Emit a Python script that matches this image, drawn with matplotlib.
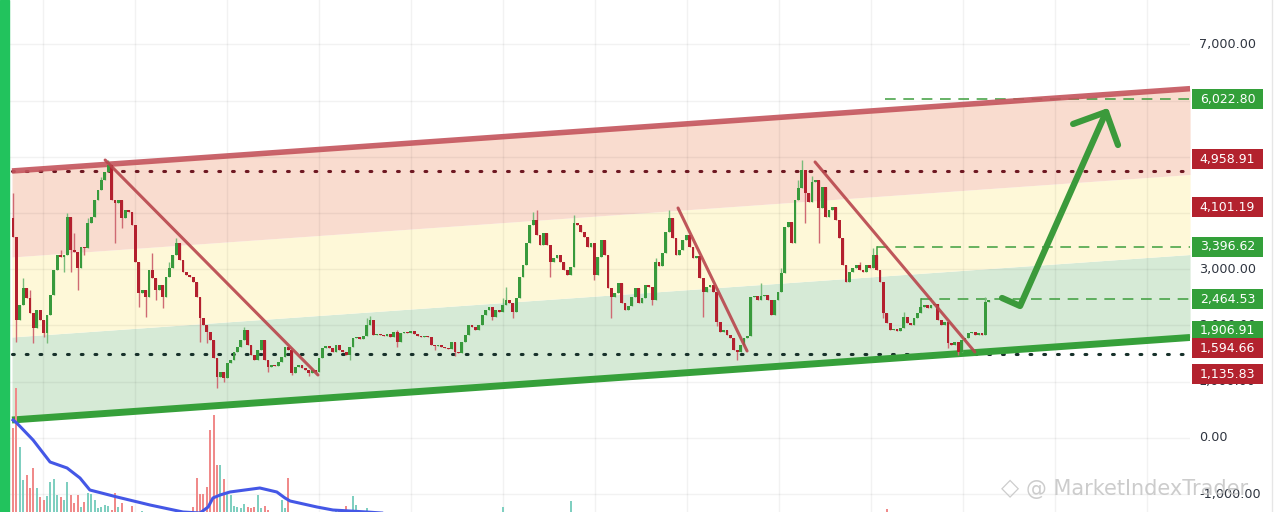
import numpy as np
import matplotlib
matplotlib.use("Agg")
import matplotlib.pyplot as plt
from matplotlib.patches import Rectangle
from matplotlib.transforms import blended_transform_factory

# ---------------- data ----------------
first_open = 3911
closes = [
    3573, 2098, 2364, 2667, 2489, 2222, 1956, 2276, 2098, 1867,
    2187, 2542, 2987, 3253, 3218, 3253, 3929, 3342, 3307, 3022,
    3396, 3378, 3822, 3929, 4231, 4409, 4587, 4729, 4853, 4231,
    4178, 4231, 3911, 4053, 4018, 3787, 3129, 2578, 2631, 2507,
    2987, 2844, 2631, 2720, 2507, 2862, 3022, 3253, 3467, 3164,
    2951, 2898, 2862, 2773, 2507, 2133, 2009, 1884, 1742, 1422,
    1084, 1173, 1067, 1333, 1387, 1529, 1618, 1742, 1920, 1653,
    1476, 1387, 1564, 1742, 1387, 1262, 1298, 1280, 1351, 1440,
    1618, 1564, 1156, 1262, 1298, 1244, 1209, 1156, 1209, 1173,
    1422, 1600, 1636, 1600, 1529, 1653, 1564, 1529, 1476, 1618,
    1778, 1796, 1760, 1813, 2009, 2098, 1831, 1849, 1831, 1813,
    1849, 1796, 1884, 1707, 1867, 1884, 1867, 1902, 1849, 1813,
    1796, 1813, 1796, 1653, 1636, 1653, 1618, 1600, 1582, 1707,
    1529, 1511, 1707, 1831, 2009, 1973, 1920, 2009, 2187, 2276,
    2329, 2151, 2276, 2240, 2364, 2453, 2400, 2240, 2489, 2862,
    3076, 3467, 3787, 3876, 3609, 3431, 3644, 3431, 3129, 3200,
    3253, 3129, 2987, 2898, 3040, 3822, 3787, 3662, 3573, 3396,
    3467, 2898, 3218, 3520, 3253, 2667, 2507, 2578, 2756, 2400,
    2276, 2347, 2507, 2667, 2400, 2489, 2720, 2684, 2453, 3129,
    3058, 3289, 3662, 3911, 3556, 3253, 3342, 3520, 3609, 3396,
    3200, 3236, 2844, 2596, 2684, 2720, 2596, 2062, 1884, 1920,
    1831, 1778, 1564, 1529, 1653, 1778, 1813, 2507, 2524, 2453,
    2524, 2542, 2453, 2187, 2453, 2596, 2933, 3751, 3840, 3467,
    4231, 4444, 4764, 4356, 4196, 4551, 4587, 4089, 4462, 3929,
    4053, 4107, 3876, 3556, 3076, 2773, 2951, 3022, 3076, 2987,
    2951, 3076, 3022, 3253, 2987, 2773, 2222, 2044, 1920, 1938,
    1902, 1956, 2151, 2044, 2009, 2133, 2222, 2329, 2364, 2311,
    2364, 2382, 2098, 2009, 2062, 1689, 1653, 1707, 1529, 1742,
    1778, 1867, 1884, 1831, 1867, 1831, 2418, 2453,
]
wick_high = {0: 4356, 3: 2844, 5: 2631, 14: 3342, 16: 4000, 18: 3644, 22: 3911,
             26: 4640, 28: 4942, 41: 3289, 46: 3129, 48: 3556, 68: 1973, 104: 2133,
             105: 2169, 113: 1920, 144: 2489, 145: 2684, 153: 4018, 154: 4053,
             165: 3964, 189: 3200, 193: 4053, 220: 2756, 226: 3022, 231: 4587,
             232: 4942, 235: 4658, 249: 3129, 253: 3378, 262: 2240, 286: 2507}
wick_low = {1: 1707, 6: 1689, 9: 1796, 10: 1689, 15: 2951, 17: 2951, 19: 2631,
            21: 3253, 30: 3467, 32: 3733, 37: 2329, 39: 2151, 42: 2453, 44: 2311,
            55: 1707, 57: 1689, 60: 889, 62: 995, 75: 1173, 82: 1120, 87: 1102,
            99: 1387, 113: 1618, 124: 1564, 130: 1458, 141: 2098, 147: 2133,
            158: 2862, 171: 2809, 176: 2133, 188: 2364, 203: 2151, 207: 1991,
            213: 1387, 233: 3822, 237: 3467, 256: 2133, 275: 1600, 278: 1476}
volume = {0: 102, 1: 142, 2: 83, 3: 50, 4: 55, 5: 42, 6: 62, 7: 42, 8: 33, 9: 30,
          10: 34, 11: 48, 12: 51, 13: 35, 14: 33, 15: 30, 16: 48, 17: 35, 18: 27,
          19: 35, 20: 23, 21: 28, 22: 37, 23: 36, 24: 30, 25: 22, 26: 23, 27: 25,
          28: 24, 29: 20, 30: 37, 31: 23, 32: 27, 35: 24, 38: 19, 53: 23, 54: 52,
          55: 36, 56: 36, 57: 43, 58: 100, 59: 115, 60: 65, 61: 65, 62: 51, 63: 38,
          64: 35, 65: 24, 66: 23, 67: 22, 68: 26, 69: 23, 70: 22, 71: 23, 72: 35,
          73: 22, 74: 24, 75: 20, 79: 30, 80: 22, 81: 52, 95: 19, 96: 19, 98: 24,
          100: 34, 101: 25, 104: 22, 144: 23, 164: 29, 257: 21}
vol_ma_idx = [0, 1.1, 5.9, 10.9, 15.9, 19.7, 22.6, 30.6, 40.3, 50, 55, 57.4, 58.8,
              60.9, 63.8, 72.6, 77.6, 80, 81.5, 89.4, 94.1, 104.1, 130, 200, 287]
vol_ma_val = [110, 107, 90, 68, 62, 52, 40, 33, 25, 18, 17, 23, 32, 35, 38, 42, 38,
              32, 29, 23, 20, 18, 12, 8, 8]

channel_x = [-0.3, 346.2]
channel_bottom = [320, 1787]
zone_green_top = [1796, 3262]
zone_yellow_top = [3218, 4684]
channel_top = [4747, 6210]
dotted_upper = 4750
dotted_lower = 1493
trend_x = [[27.1, 89.7], [195.6, 215.9], [235.9, 282.9]]
trend_y = [[4942, 1120], [4089, 1547], [4907, 1529]]
dashed_levels = [6022.80, 3396.62, 2464.53]
dashed_start = [256.5, 254.0, 267.0]
arrow_x = [290.9, 296.2, 321.5]
arrow_y = [2489, 2347, 5796]
arrow_head_x = [311.8, 321.5, 325.0]
arrow_head_y = [5583, 5796, 5209]
grid_levels = [7000, 6000, 5000, 4000, 3000, 2000, 1000, 0, -1000]
axis_ticks = [7000, 3000, 2000, 1000, 0, -1000]
level_labels = ["6,022.80", "4,958.91", "4,101.19", "3,396.62",
                "2,464.53", "1,906.91", "1,594.66", "1,135.83"]
level_values = [6022.80, 4958.91, 4101.19, 3396.62, 2464.53, 1906.91, 1594.66, 1135.83]
level_kind = ["up", "down", "down", "up", "up", "up", "down", "down"]

# ---------------- styling ----------------
W, H = 1280, 512
X0, X1 = 10, 1190
C_GREEN = "#389a3c"
C_RED = "#b3202e"
LBL_GREEN = "#33a03a"
LBL_RED = "#b3222e"

fig = plt.figure(figsize=(W / 100, H / 100), dpi=100, facecolor="white")
ax = fig.add_axes([X0 / W, 0, (X1 - X0) / W, 1])
ax.set_facecolor("none")
for s in ax.spines.values():
    s.set_visible(False)
ax.set_xticks([]); ax.set_yticks([])
xmin = (X0 - 13) / 3.4
xmax = (X1 - 13) / 3.4
ymin, ymax = -1315.6, 7786.7
ax.set_xlim(xmin, xmax)
ax.set_ylim(ymin, ymax)

# left accent bar
fig.patches.append(Rectangle((0, 0), 9 / W, 1, transform=fig.transFigure,
                             color="#22c35d", zorder=0))

# zones
cx = np.array(channel_x)
ax.fill_between(cx, channel_bottom, zone_green_top, color="#d6ead6", lw=0, zorder=0.5)
ax.fill_between(cx, zone_green_top, zone_yellow_top, color="#fef8d8", lw=0, zorder=0.5)
ax.fill_between(cx, zone_yellow_top, channel_top, color="#f9dccf", lw=0, zorder=0.5)

# grid
for gx in np.arange((43 - 13) / 3.4, xmax, 92 / 3.4):
    ax.axvline(gx, color="black", alpha=0.05, lw=1, zorder=1)
for gy in grid_levels:
    ax.axhline(gy, color="black", alpha=0.05, lw=1, zorder=1)

# dotted levels
ax.plot(cx, [dotted_upper] * 2, color="#6e1822", lw=2.2, ls=(0, (0.6, 3.9)),
        dash_capstyle="round", zorder=2)
ax.plot(cx, [dotted_lower] * 2, color="#17302a", lw=2.2, ls=(0, (0.6, 3.9)),
        dash_capstyle="round", zorder=2)

# dashed levels
for lv, st in zip(dashed_levels, dashed_start):
    ax.plot([st, xmax], [lv, lv], color="#3d9e3d", lw=1.1, ls=(0, (7, 5)), zorder=2)
ax.plot([dashed_start[1], dashed_start[1]], [dashed_levels[1], dashed_levels[1] - 330],
        color="#3d9e3d", lw=1.1, zorder=2)
ax.plot([dashed_start[2], dashed_start[2]], [dashed_levels[2], dashed_levels[2] - 180],
        color="#3d9e3d", lw=1.1, zorder=2)

# channel lines
ax.plot(cx, channel_bottom, color="#36a03a", lw=5, solid_capstyle="butt", zorder=3)
ax.plot(cx, channel_top, color="#c4545c", lw=4, alpha=0.9, solid_capstyle="butt", zorder=3)

# candles
closes_a = np.array(closes, dtype=float)
opens_a = np.concatenate([[first_open], closes_a[:-1]])
idx = np.arange(len(closes_a))
up = closes_a >= opens_a
highs = np.maximum(opens_a, closes_a)
lows = np.minimum(opens_a, closes_a)
for k, v in wick_high.items():
    highs[k] = max(highs[k], v)
for k, v in wick_low.items():
    lows[k] = min(lows[k], v)
wick_cols = np.where(up, "#78bb7a", "#cf6a73")
ax.vlines(idx, lows, highs, colors=wick_cols, lw=1.0, zorder=4)
body_h = np.maximum(np.abs(closes_a - opens_a), 24)
body_b = np.minimum(opens_a, closes_a)
ax.bar(idx, body_h, bottom=body_b, width=0.85, color=np.where(up, C_GREEN, C_RED),
       lw=0, zorder=5)

# trend lines
for tx, ty in zip(trend_x, trend_y):
    ax.plot(tx, ty, color="#b8454c", lw=2.2, alpha=0.9, solid_capstyle="round", zorder=6)

# arrow
ax.plot(arrow_x, arrow_y, color="#3b9a3b", lw=4.5, solid_capstyle="round",
        solid_joinstyle="round", zorder=7)
ax.plot(arrow_head_x, arrow_head_y, color="#3b9a3b", lw=4.5, solid_capstyle="round",
        solid_joinstyle="round", zorder=7)

# volume overlay
axv = fig.add_axes([X0 / W, 0, (X1 - X0) / W, 1])
axv.set_facecolor("none")
axv.set_zorder(ax.get_zorder() + 1)
for s in axv.spines.values():
    s.set_visible(False)
axv.set_xticks([]); axv.set_yticks([])
axv.set_xlim(xmin, xmax)
axv.set_ylim(18, 530)
vi = np.array(list(volume.keys()))
vv = np.array(list(volume.values()), dtype=float)
axv.bar(vi, vv, width=0.6, color=np.where(up[vi], "#7fcfc0", "#f08a8a"), lw=0, zorder=2)
axv.plot(vol_ma_idx, vol_ma_val, color="#4457e6", lw=2.2, zorder=3)

# right price scale
tr = blended_transform_factory(fig.transFigure, ax.transData)
for t in axis_ticks:
    lab = f"{t:,.2f}" if t >= 0 else "-" + f"{-t:,.2f}"
    ax.text(1199 / W, t, lab, transform=tr, ha="left", va="center", fontsize=9.2,
            color="#2f3540", clip_on=False, zorder=8)

box_h = 20 * (ymax - ymin) / H
for txt, val, kind in zip(level_labels, level_values, level_kind):
    col = LBL_GREEN if kind == "up" else LBL_RED
    ax.add_patch(Rectangle((1192 / W, val - box_h / 2), 71 / W, box_h, transform=tr,
                           facecolor=col, edgecolor="none", clip_on=False, zorder=9))
    ax.text(1227.5 / W, val, txt, transform=tr, ha="center", va="center", fontsize=9.0,
            color="white", clip_on=False, zorder=10)

# right edge separator
fig.add_artist(plt.Line2D([1272 / W, 1272 / W], [0, 1], transform=fig.transFigure,
                          color="#e6e6e6", lw=1))

# watermark
fig.text(1010 / W, 1 - 488 / H, "\u25C7", fontsize=17, color="#c4c4c4", ha="center",
         va="center", alpha=0.85, zorder=20)
fig.text(1026 / W, 1 - 489 / H, "@ MarketIndexTrader", fontsize=15, color="#c4c4c4",
         ha="left", va="center", alpha=0.85, zorder=20)

fig.savefig("out.png", dpi=100, facecolor="white")
